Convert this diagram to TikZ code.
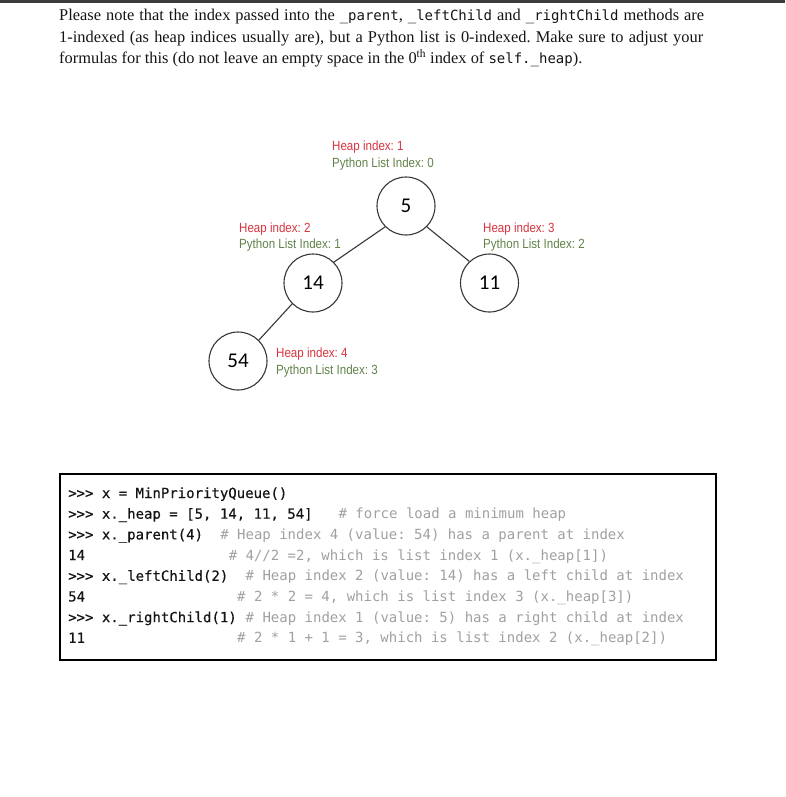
\documentclass[tikz,border=0pt]{standalone}
\usepackage{fontspec}
\setmainfont{Liberation Serif}
\newfontfamily\codefont[Ligatures=TeXOff]{DejaVu Sans Mono}
\newfontfamily\codefontB[Ligatures=TeXOff,FakeBold=0.5]{DejaVu Sans Mono}
\newfontfamily\lblfont[FakeStretch=0.87]{Liberation Sans}
\newfontfamily\numfont{Carlito}
\definecolor{topbar}{RGB}{60,60,60}
\definecolor{heapred}{RGB}{214,52,62}
\definecolor{listgreen}{RGB}{96,130,72}
\definecolor{cmtgray}{RGB}{160,160,160}
\definecolor{inkdark}{RGB}{20,20,20}
\definecolor{circline}{RGB}{55,55,55}
\newcommand\pmono[1]{{\codefont\fontsize{14}{16}\selectfont #1}}
\newcommand\codeline[4]{%
  \node[codetxt] (c#1) at (68,{498+20.7*#1}) {#2};
  \node[cmttxt] (m#1) at ({68+8.45*#3},{498+20.7*#1}) {#4};}
\begin{document}
\frenchspacing
\begin{tikzpicture}[x=1pt,y=-1pt,
  para/.style={anchor=base west,inner sep=0pt,text=inkdark,font=\frenchspacing\fontsize{16.4}{18}\selectfont},
  hnode/.style={circle,draw=circline,line width=1.1pt,minimum size=58pt,inner sep=0pt,font=\numfont\fontsize{21}{23}\selectfont},
  edge/.style={draw=circline,line width=1.1pt},
  redlbl/.style={anchor=base west,inner sep=0pt,text=heapred,font=\lblfont\fontsize{13.3}{15}\selectfont},
  greenlbl/.style={anchor=base west,inner sep=0pt,text=listgreen,font=\lblfont\fontsize{13.3}{15}\selectfont},
  codetxt/.style={anchor=base west,inner sep=0pt,text=inkdark,font=\codefontB\fontsize{14}{16}\selectfont},
  cmttxt/.style={anchor=base west,inner sep=0pt,text=cmtgray,font=\codefont\fontsize{14}{16}\selectfont},
  codebox/.style={draw=black,line width=2pt}
]
\useasboundingbox (0,0) rectangle (785,797);
\fill[topbar] (0,0) rectangle (785,3);

% paragraph
\node[para] (p1) at (59,21) {\makebox[645pt][s]{Please note that the index passed into the \pmono{\_parent}, \pmono{\_leftChild} and \pmono{\_rightChild} methods are}};
\node[para] (p2) at (59,42.5) {\makebox[644pt][s]{1-indexed (as heap indices usually are), but a Python list is 0-indexed. Make sure to adjust your}};
\node[para] (p3) at (59,64) {formulas for this (do not leave an empty space in the 0\textsuperscript{th} index of \pmono{self.\_heap}).};

% tree
\node[hnode] (n5) at (406,206) {5};
\node[hnode] (n14) at (313,283) {14};
\node[hnode] (n11) at (489.5,283) {11};
\node[hnode] (n54) at (238,361) {54};
\draw[edge] (n5.225) -- (n14.45);
\draw[edge] (n5.315) -- (n11.133);
\draw[edge] (n14.225) -- (n54.45);

\node[redlbl] (h1) at (332,150) {Heap index: 1};
\node[greenlbl] (l1) at (332,167) {Python List Index: 0};
\node[redlbl] (h2) at (239,232) {Heap index: 2};
\node[greenlbl] (l2) at (239,248) {Python List Index: 1};
\node[redlbl] (h3) at (483,232) {Heap index: 3};
\node[greenlbl] (l3) at (483,248) {Python List Index: 2};
\node[redlbl] (h4) at (276,357) {Heap index: 4};
\node[greenlbl] (l4) at (276,374) {Python List Index: 3};

% code box
\draw[codebox] (60,474) rectangle (716,660);
\codeline{0}{>>> x = MinPriorityQueue()}{0}{}
\codeline{1}{>>> x.\_heap = [5, 14, 11, 54]}{32}{\# force load a minimum heap}
\codeline{2}{>>> x.\_parent(4)}{18}{\# Heap index 4 (value: 54) has a parent at index}
\codeline{3}{14}{19}{\# 4//2 =2, which is list index 1 (x.\_heap[1])}
\codeline{4}{>>> x.\_leftChild(2)}{21}{\# Heap index 2 (value: 14) has a left child at index}
\codeline{5}{54}{20}{\# 2 * 2 = 4, which is list index 3 (x.\_heap[3])}
\codeline{6}{>>> x.\_rightChild(1)}{21}{\# Heap index 1 (value: 5) has a right child at index}
\codeline{7}{11}{20}{\# 2 * 1 + 1 = 3, which is list index 2 (x.\_heap[2])}
\end{tikzpicture}
\end{document}
